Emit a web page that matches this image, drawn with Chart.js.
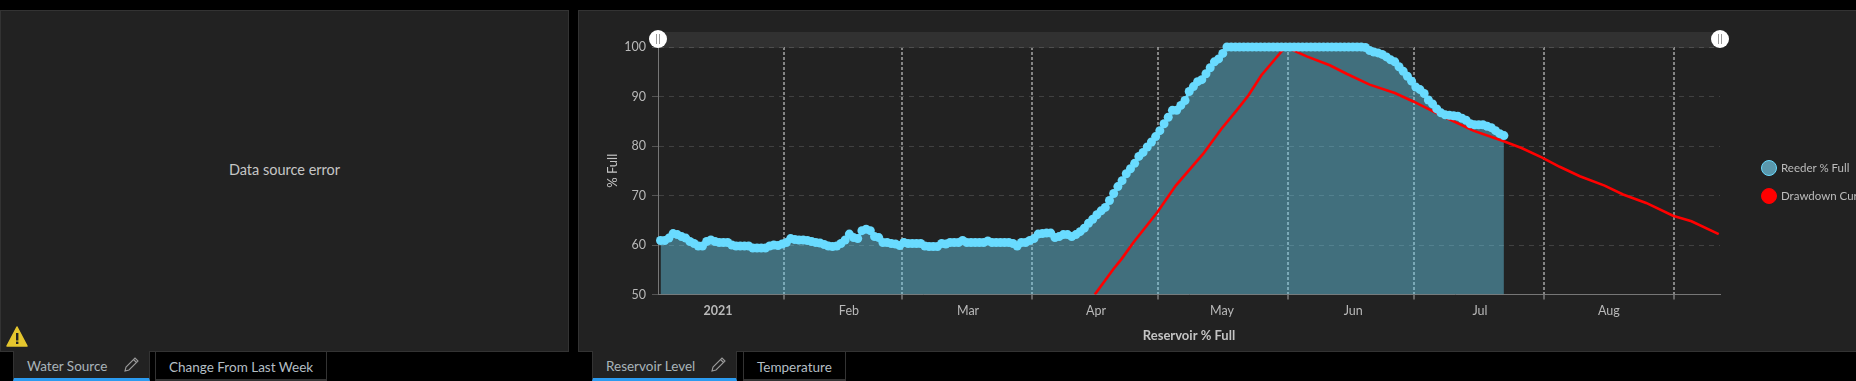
<!DOCTYPE html>
<html>
<head>
<meta charset="utf-8">
<script src="https://cdn.jsdelivr.net/npm/chart.js@4"></script>
<style>
  html, body { margin: 0; padding: 0; background: #000; width: 1856px; height: 381px; overflow: hidden; }
  body { position: relative; font-family: Lato, "Open Sans", sans-serif; color: #bcbcbc; }
  .panel { position: absolute; top: 10px; height: 340px; background: #222; border: 1px solid #333; box-sizing: content-box; }
  #left-panel { left: 0; width: 567px; }
  #right-panel { left: 578px; width: 1278px; border-right: 0; overflow: hidden; }
  #error-text { position: absolute; left: 0; width: 567px; top: 150px; text-align: center; font-size: 14.5px; color: #c6c6c6; }
  #warning { position: absolute; left: 6px; top: 326px; }
  canvas { position: absolute; left: 0; top: 0; }
  .tab { position: absolute; top: 351px; height: 30px; box-sizing: border-box; font-size: 13.5px; line-height: 30px; border: 1px solid #333; border-bottom: 2px solid #333; background: #000; color: #b4bec4; }
  .tab.active { background: #222; border-bottom: 3px solid #2b9bf0; border-top: 0; color: #a9b4ba; }
  .tab span { position: absolute; top: 0; white-space: nowrap; }
  .tab svg { position: absolute; top: 5px; }
  .legend-item { position: absolute; font-size: 11.5px; white-space: nowrap; color: #bcbcbc; }
  .legend-dot { position: absolute; left: 1182px; width: 16px; height: 16px; box-sizing: border-box; border-radius: 50%; }
</style>
</head>
<body>
<div class="panel" id="left-panel">
  <div id="error-text">Data source error</div>
</div>
<svg id="warning" width="22" height="21" viewBox="0 0 22 21">
  <path d="M11 1 L21 20 L1 20 Z" fill="#e5c62e" stroke="#e5c62e" stroke-width="1.5" stroke-linejoin="round"/>
  <rect x="10" y="7" width="2.4" height="7.5" fill="#222"/>
  <rect x="10" y="15.6" width="2.4" height="2.4" fill="#222"/>
</svg>
<div class="panel" id="right-panel">
  <canvas id="level-chart"></canvas>
  <div id="legend"></div>
</div>
<div class="tab active" style="left:13px;width:137px"><span style="left:13px">Water Source</span>
  <svg style="left:108px" width="18" height="18" viewBox="0 0 18 18"><path d="M3 15 L4 11 L13 2 L16 5 L7 14 Z M11.5 3.5 L14.5 6.5" fill="none" stroke="#9a9a9a" stroke-width="1.1"/></svg></div>
<div class="tab" style="left:155px;width:172px"><span style="left:13px">Change From Last Week</span></div>
<div class="tab active" style="left:592px;width:145px"><span style="left:13px">Reservoir Level</span>
  <svg style="left:116px" width="18" height="18" viewBox="0 0 18 18"><path d="M3 15 L4 11 L13 2 L16 5 L7 14 Z M11.5 3.5 L14.5 6.5" fill="none" stroke="#9a9a9a" stroke-width="1.1"/></svg></div>
<div class="tab" style="left:743px;width:103px"><span style="left:13px">Temperature</span></div>

<script>
// Axis data (x is day of the year, Jan 1 = 0)
const xMin = 0.9;
const xMax = 254;
const monthStartDays = [31, 59, 90, 120, 151, 181, 212, 243];
const monthLabelDays = [15.2, 46.4, 74.8, 105.3, 135.3, 166.6, 196.8, 227.5];
const monthLabels = ["2021", "Feb", "Mar", "Apr", "May", "Jun", "Jul", "Aug"];
const yTicks = [50, 60, 70, 80, 90, 100];
const seriesNames = ["Reeder % Full", "Drawdown Curve"];

// Reeder % Full, one reading per day from reederFirstDay
const reederFirstDay = 1.5;
const reederValues = [
  60.9, 60.9, 61.4, 62.3, 62.1, 61.7, 61.4, 60.7, 60.3, 59.8,
  59.8, 60.7, 61.0, 60.7, 60.5, 60.5, 60.5, 60.0, 59.8, 59.8,
  59.8, 59.8, 59.4, 59.4, 59.4, 59.4, 59.8, 60.0, 59.9, 60.2,
  60.5, 61.3, 61.1, 61.0, 61.0, 60.9, 60.7, 60.5, 60.4, 60.1,
  59.8, 59.7, 59.8, 60.3, 61.0, 62.2, 61.5, 61.3, 62.9, 63.2,
  62.9, 61.7, 61.5, 60.5, 60.5, 60.3, 60.2, 59.9, 60.5, 60.3,
  60.3, 60.3, 60.3, 59.8, 59.7, 59.7, 59.7, 60.3, 60.2, 60.5,
  60.5, 60.5, 60.9, 60.5, 60.5, 60.5, 60.5, 60.5, 60.8, 60.5,
  60.5, 60.5, 60.5, 60.5, 60.3, 59.8, 60.5, 60.5, 60.9, 61.3,
  62.2, 62.3, 62.4, 62.4, 61.5, 61.7, 62.1, 62.1, 61.7, 62.1,
  62.7, 63.4, 64.4, 65.2, 66.1, 66.9, 67.6, 69.0, 70.4, 71.8,
  73.0, 74.4, 75.4, 76.5, 77.9, 78.7, 79.8, 80.8, 81.9, 83.1,
  84.5, 85.8, 87.2, 87.2, 88.2, 89.2, 91.0, 92.0, 93.0, 93.4,
  94.6, 95.8, 97.0, 97.6, 98.7, 100, 100, 100, 100, 100,
  100, 100, 100, 100, 100, 100, 100, 100, 100, 100,
  100, 100, 100, 100, 100, 100, 100, 100, 100, 100,
  100, 100, 100, 100, 100, 100, 100, 100, 99.9, 99.3,
  99.0, 98.8, 98.5, 98.0, 97.4, 97.0, 96.0, 95.1, 94.1, 93.1,
  91.9, 91.4, 90.6, 89.3, 88.5, 87.5, 86.7, 86.3, 86.2, 86.1,
  86.0, 85.6, 85.2, 84.5, 84.3, 84.3, 84.3, 84.0, 83.7, 83.1,
  82.5, 82.1
];

const drawdownDays = [
  105, 109.4, 111.4, 114.2, 119.9, 124.3, 130.8, 135.2, 138.8, 141.6,
  144.7, 149.9, 151.1, 152.3, 155.5, 161, 165, 170.5, 176.5, 180.9,
  188, 195.2, 202.3, 206.7, 211.5, 215.8, 220.6, 226.5, 230.9, 236.4,
  242.8, 247.2, 253.7
];
const drawdownValues = [
  50, 55.1, 57.2, 60.5, 66.6, 72, 78.4, 83.5, 87.2, 90.2,
  94.3, 99.5, 100, 99.3, 98.1, 96.3, 94.6, 92.4, 90.7, 89,
  86, 83.1, 81, 79.6, 77.7, 75.8, 73.9, 72, 70.2, 68.5,
  65.9, 64.8, 62.2
];

// Elements
const chartCanvas = document.getElementById("level-chart");
chartCanvas.width = 1278;
chartCanvas.height = 340;
chartCanvas.style.width = "1278px";
chartCanvas.style.height = "340px";

const tickColor = "#b9b9b9";
const isMonthStart = (tick) => monthStartDays.includes(tick.value);

// Grey band and the two white handles of the range slider
const sliderPlugin = {
  id: "slider",
  beforeDatasetsDraw(chart) {
    const { ctx, chartArea } = chart;
    ctx.save();
    ctx.fillStyle = "rgba(255,255,255,0.07)";
    ctx.fillRect(chartArea.left, chartArea.top - 15, chartArea.width, 16);
    ctx.restore();
  },
  afterDraw(chart) {
    const { ctx, chartArea } = chart;
    [chartArea.left, chartArea.right].forEach((x) => {
      ctx.save();
      ctx.fillStyle = "#fff";
      ctx.beginPath();
      ctx.arc(x, chartArea.top - 8, 9, 0, Math.PI * 2);
      ctx.fill();
      ctx.fillStyle = "#9a9a9a";
      ctx.fillRect(x - 2, chartArea.top - 13, 1, 10);
      ctx.fillRect(x + 1, chartArea.top - 13, 1, 10);
      ctx.restore();
    });
  },
};

new Chart(chartCanvas, {
  type: "line",
  data: {
    datasets: [
      {
        label: seriesNames[0],
        data: reederValues.map((v, i) => ({ x: reederFirstDay + i, y: v })),
        borderColor: "#69dbff",
        backgroundColor: "rgba(110, 220, 255, 0.41)",
        borderWidth: 3,
        pointRadius: 4.5,
        pointBorderWidth: 0,
        pointBackgroundColor: "#69dbff",
        tension: 0,
        fill: "start",
        clip: false,
      },
      {
        label: seriesNames[1],
        data: drawdownValues.map((v, i) => ({ x: drawdownDays[i], y: v })),
        borderColor: "#ff0000",
        borderWidth: 2.6,
        pointRadius: 0,
        tension: 0,
        fill: false,
      },
    ],
  },
  options: {
    responsive: false,
    animation: false,
    layout: { padding: { left: 0, right: 137, top: 36, bottom: 0 } },
    plugins: {
      legend: { display: false },
      tooltip: { enabled: false },
      filler: { drawTime: "beforeDatasetsDraw" },
    },
    scales: {
      x: {
        type: "linear",
        min: xMin,
        max: xMax,
        afterBuildTicks(scale) {
          scale.ticks = monthStartDays.concat(monthLabelDays).map((d) => ({ value: d }));
        },
        afterFit(scale) {
          scale.height = 56.5;
          scale.paddingLeft = 0;
          scale.paddingRight = 0;
        },
        border: { color: "#777", width: 1, dash: [3, 2] },
        grid: {
          color: (c) => (c.tick && isMonthStart(c.tick) ? "#858585" : "rgba(0,0,0,0)"),
          lineWidth: 2,
          tickLength: 5,
          tickColor: (c) => (c.tick && isMonthStart(c.tick) ? "#666" : "rgba(0,0,0,0)"),
          tickBorderDash: [],
        },
        ticks: {
          autoSkip: false,
          maxRotation: 0,
          minRotation: 0,
          padding: 4,
          color: tickColor,
          font: (c) => ({
            family: "Lato",
            size: 12.5,
            weight: c.tick && c.tick.value === monthLabelDays[0] ? "bold" : "normal",
          }),
          callback(value) {
            const i = monthLabelDays.indexOf(value);
            return i >= 0 ? monthLabels[i] : "";
          },
        },
        title: {
          display: true,
          text: "Reservoir % Full",
          color: "#c4c4c4",
          font: { family: "Lato", size: 13, weight: "bold" },
          padding: { top: 0, bottom: 7 },
        },
      },
      y: {
        type: "linear",
        min: 50,
        max: 100,
        afterBuildTicks(scale) {
          scale.ticks = yTicks.map((v) => ({ value: v }));
        },
        afterFit(scale) {
          scale.width = 79;
        },
        border: { color: "#777", width: 1, dash: [5, 5] },
        grid: {
          color: "#414141",
          lineWidth: 1,
          tickLength: 6,
          tickColor: "#555",
          tickBorderDash: [],
        },
        ticks: {
          padding: 6,
          color: tickColor,
          font: { family: "Lato", size: 12.5 },
        },
        title: {
          display: true,
          text: "% Full",
          color: "#c4c4c4",
          font: { family: "Lato", size: 13 },
          padding: { top: 26, bottom: 0 },
        },
      },
    },
  },
  plugins: [sliderPlugin],
});

// Legend
const legend = document.getElementById("legend");
const legendStyles = [
  { fill: "#5a98ad", stroke: "#69dbff" },
  { fill: "#ff0000", stroke: "#ff0000" },
];
seriesNames.forEach((name, i) => {
  const top = 149 + i * 28;
  legend.innerHTML +=
    `<div class="legend-dot" style="top:${top}px;background:${legendStyles[i].fill};border:1px solid ${legendStyles[i].stroke}"></div>` +
    `<div class="legend-item" style="left:1202px;top:${top + 1}px">${name}</div>`;
});
</script>
</body>
</html>
